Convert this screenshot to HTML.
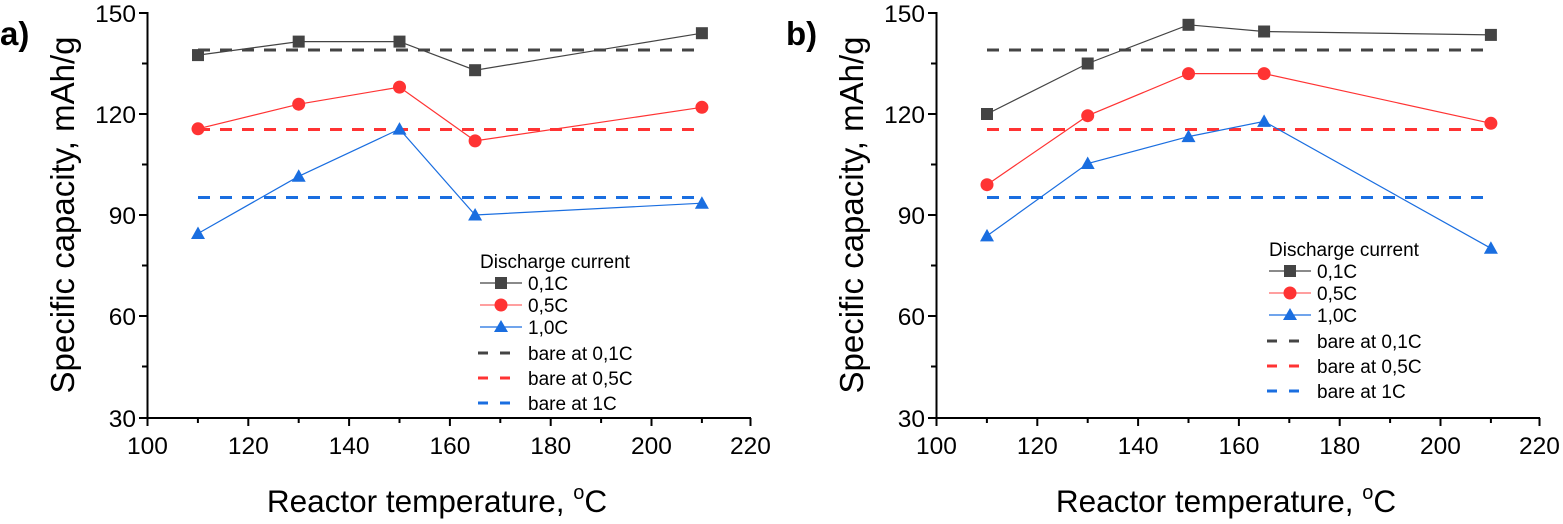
<!DOCTYPE html>
<html><head><meta charset="utf-8"><style>
html,body{margin:0;padding:0;background:#fff;}
svg{display:block;font-family:"Liberation Sans",Arial,sans-serif;}
</style></head><body>
<svg width="1563" height="524" viewBox="0 0 1563 524" xmlns="http://www.w3.org/2000/svg">
<defs>
<g id="axes">
  <line x1="147.5" y1="12" x2="147.5" y2="418" stroke="#000" stroke-width="2"/>
  <line x1="146.5" y1="418" x2="751" y2="418" stroke="#000" stroke-width="2"/>
  <g stroke="#000" stroke-width="2">
    <line x1="139" y1="13" x2="147" y2="13"/><line x1="142" y1="63.5" x2="147" y2="63.5"/>
    <line x1="139" y1="114" x2="147" y2="114"/><line x1="142" y1="164.5" x2="147" y2="164.5"/>
    <line x1="139" y1="215" x2="147" y2="215"/><line x1="142" y1="265.5" x2="147" y2="265.5"/>
    <line x1="139" y1="316" x2="147" y2="316"/><line x1="142" y1="366.5" x2="147" y2="366.5"/>
    <line x1="139" y1="418" x2="147" y2="418"/>
    <line x1="147.5" y1="418" x2="147.5" y2="426"/><line x1="197.9" y1="418" x2="197.9" y2="423"/>
    <line x1="248.3" y1="418" x2="248.3" y2="426"/><line x1="298.7" y1="418" x2="298.7" y2="423"/>
    <line x1="349.1" y1="418" x2="349.1" y2="426"/><line x1="399.5" y1="418" x2="399.5" y2="423"/>
    <line x1="449.9" y1="418" x2="449.9" y2="426"/><line x1="500.3" y1="418" x2="500.3" y2="423"/>
    <line x1="550.7" y1="418" x2="550.7" y2="426"/><line x1="601.1" y1="418" x2="601.1" y2="423"/>
    <line x1="651.5" y1="418" x2="651.5" y2="426"/><line x1="701.9" y1="418" x2="701.9" y2="423"/>
    <line x1="750.5" y1="418" x2="750.5" y2="426"/>
  </g>
  <g font-size="24.5" text-anchor="end">
    <text x="136" y="22">150</text><text x="136" y="123">120</text><text x="136" y="224">90</text>
    <text x="136" y="325">60</text><text x="136" y="427">30</text>
  </g>
  <g font-size="24.5" text-anchor="middle">
    <text x="147.5" y="454">100</text><text x="248.3" y="454">120</text><text x="349.1" y="454">140</text>
    <text x="449.9" y="454">160</text><text x="550.7" y="454">180</text><text x="651.5" y="454">200</text><text x="750.5" y="454">220</text>
  </g>
  <text x="437" y="512" font-size="31.5" text-anchor="middle">Reactor temperature, <tspan dy="-13" font-size="20">o</tspan><tspan dy="13">C</tspan></text>
  <text transform="translate(74,215) rotate(-90)" font-size="33" text-anchor="middle">Specific capacity, mAh/g</text>
  <g stroke-width="3" stroke-dasharray="12,10">
    <line x1="198" y1="50" x2="702" y2="50" stroke="#444"/>
    <line x1="198" y1="129.5" x2="702" y2="129.5" stroke="#f33"/>
    <line x1="198" y1="197.5" x2="702" y2="197.5" stroke="#1a6ee0"/>
  </g>
</g>
<g id="leg" font-size="19">
<text x="480" y="268">Discharge current</text>
<line x1="480" y1="283" x2="522" y2="283" stroke="#444" stroke-width="1.2"/><rect x="495" y="277" width="12" height="12" fill="#444"/><text x="528" y="290">0,1C</text>
<line x1="480" y1="305" x2="522" y2="305" stroke="#f66" stroke-width="1.2"/><circle cx="501" cy="305" r="6.5" fill="#f33"/><text x="528" y="312">0,5C</text>
<line x1="480" y1="327" x2="522" y2="327" stroke="#1a6ee0" stroke-width="1.2"/><polygon points="501,320 508,332 494,332" fill="#1a6ee0"/><text x="528" y="334">1,0C</text>
<line x1="478" y1="353" x2="514" y2="353" stroke="#444" stroke-width="3" stroke-dasharray="10,12"/><text x="528" y="360">bare at 0,1C</text>
<line x1="478" y1="378" x2="514" y2="378" stroke="#f33" stroke-width="3" stroke-dasharray="10,12"/><text x="528" y="385">bare at 0,5C</text>
<line x1="478" y1="403" x2="514" y2="403" stroke="#1a6ee0" stroke-width="3" stroke-dasharray="10,12"/><text x="528" y="410">bare at 1C</text>
</g>
</defs>

<use href="#axes"/>
<text x="0" y="45" font-size="33" font-weight="bold">a)</text>
<polyline fill="none" stroke="#444" stroke-width="1.2" points="198,55.1 298.7,41.6 399.5,41.6 475.1,70.2 701.9,33.2"/>
<g fill="#444"><rect x="192" y="49.1" width="12" height="12"/><rect x="292.7" y="35.6" width="12" height="12"/><rect x="393.5" y="35.6" width="12" height="12"/><rect x="469.1" y="64.2" width="12" height="12"/><rect x="695.9" y="27.2" width="12" height="12"/></g>
<polyline fill="none" stroke="#f33" stroke-width="1.2" points="198,128.8 298.7,104.2 399.5,87.1 475.1,140.9 701.9,107.3"/>
<g fill="#f33"><circle cx="198" cy="128.8" r="6.5"/><circle cx="298.7" cy="104.2" r="6.5"/><circle cx="399.5" cy="87.1" r="6.5"/><circle cx="475.1" cy="140.9" r="6.5"/><circle cx="701.9" cy="107.3" r="6.5"/></g>
<polyline fill="none" stroke="#1a6ee0" stroke-width="1.2" points="198,233.5 298.7,176.3 399.5,129.1 475.1,215 701.9,203.2"/>
<g fill="#1a6ee0">
<polygon points="198,226.5 205,239 191,239"/><polygon points="298.7,169.3 305.7,181.8 291.7,181.8"/><polygon points="399.5,122.1 406.5,134.6 392.5,134.6"/><polygon points="475.1,208 482.1,220.5 468.1,220.5"/><polygon points="701.9,196.2 708.9,208.7 694.9,208.7"/></g>
<use href="#leg"/>

<g transform="translate(789,0)">
<use href="#axes"/>
<text x="-3" y="45" font-size="33" font-weight="bold">b)</text>
<polyline fill="none" stroke="#444" stroke-width="1.2" points="198,114 298.7,63.5 399.5,24.8 475.1,31.5 701.9,34.9"/>
<g fill="#444"><rect x="192" y="108" width="12" height="12"/><rect x="292.7" y="57.5" width="12" height="12"/><rect x="393.5" y="18.8" width="12" height="12"/><rect x="469.1" y="25.5" width="12" height="12"/><rect x="695.9" y="28.9" width="12" height="12"/></g>
<polyline fill="none" stroke="#f33" stroke-width="1.2" points="198,184.7 298.7,115.7 399.5,73.6 475.1,73.6 701.9,123.3"/>
<g fill="#f33"><circle cx="198" cy="184.7" r="6.5"/><circle cx="298.7" cy="115.7" r="6.5"/><circle cx="399.5" cy="73.6" r="6.5"/><circle cx="475.1" cy="73.6" r="6.5"/><circle cx="701.9" cy="123.3" r="6.5"/></g>
<polyline fill="none" stroke="#1a6ee0" stroke-width="1.2" points="198,235.9 298.7,163.5 399.5,136.6 475.1,121.4 701.9,248.3"/>
<g fill="#1a6ee0">
<polygon points="198,228.9 205,241.4 191,241.4"/><polygon points="298.7,156.5 305.7,169 291.7,169"/><polygon points="399.5,129.6 406.5,142.1 392.5,142.1"/><polygon points="475.1,114.4 482.1,126.9 468.1,126.9"/><polygon points="701.9,241.3 708.9,253.8 694.9,253.8"/></g>
<g transform="translate(0,-12)"><use href="#leg"/></g>
</g>
</svg>
</body></html>
